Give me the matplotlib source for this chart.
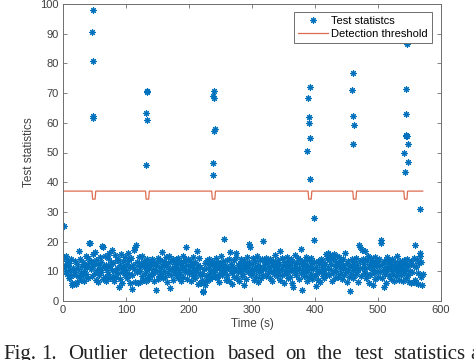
import numpy as np
import matplotlib
matplotlib.use("Agg")
import matplotlib.pyplot as plt
from matplotlib.lines import Line2D

# Background test statistics, one sample per second starting at t = 0
background_values = [
    11.5, 14.8, 25.3, 12.0, 10.2, 15.1, 9.0, 13.4, 11.8, 7.6, 12.9, 10.4, 14.2, 8.3, 6.1, 5.4, 11.0, 5.8, 9.7, 13.6,
    5.6, 8.8, 12.4, 6.3, 10.9, 16.9, 8.1, 14.0, 9.5, 7.2, 11.7, 8.6, 13.1, 10.0, 6.8, 12.2, 15.3, 9.1, 11.4, 7.9,
    14.6, 12.8, 19.6, 19.4, 10.7, 13.5, 8.4, 11.9, 15.8, 12.3, 9.3, 16.4, 7.0, 13.8, 10.6, 6.4, 12.6, 8.9, 14.9, 11.1,
    9.8, 13.2, 18.6, 7.4, 18.2, 11.5, 15.0, 8.2, 12.1, 6.6, 10.3, 14.4, 9.0, 16.2, 11.8, 7.7, 13.0, 17.1, 10.5, 8.5,
    12.7, 6.9, 15.5, 10.1, 8.0, 13.7, 11.2, 9.4, 14.1, 4.6, 7.3, 12.0, 15.9, 10.8, 6.2, 13.3, 9.6, 11.6, 8.7, 14.7,
    10.4, 12.5, 7.8, 16.0, 9.2, 13.9, 11.3, 6.0, 14.5, 8.6, 3.9, 12.2, 17.2, 10.7, 18.3, 6.4, 18.9, 13.0, 9.9, 5.9,
    11.9, 14.8, 6.5, 10.0, 12.8, 8.4, 15.2, 7.1, 11.3, 13.5, 9.5, 6.8, 12.4, 10.6, 14.0, 8.0, 11.0, 7.5, 13.2, 9.2,
    12.1, 8.9, 14.3, 10.5, 6.7, 13.1, 9.7, 11.8, 3.8, 12.9, 7.4, 14.6, 10.2, 8.3, 13.8, 11.4, 9.0, 16.6, 12.5, 7.9,
    13.6, 10.1, 8.1, 14.9, 11.7, 6.3, 12.7, 9.3, 15.1, 10.8, 4.5, 13.3, 8.6, 11.2, 14.2, 7.2, 10.9, 12.3, 9.8, 13.9,
    8.8, 11.6, 14.5, 7.6, 10.3, 12.8, 9.1, 13.0, 6.9, 11.5, 15.0, 8.2, 10.7, 13.7, 9.6, 18.2, 12.0, 7.3, 10.4, 14.1,
    9.4, 11.9, 13.4, 6.6, 10.2, 12.6, 8.5, 14.8, 11.1, 7.8, 13.1, 9.9, 17.0, 10.6, 12.2, 5.8, 14.4, 8.7, 11.3, 6.2,
    9.5, 7.0, 3.2, 2.9, 10.8, 5.5, 12.7, 8.3, 13.9, 6.8, 11.0, 14.1, 9.2, 7.5, 12.4, 10.1, 8.0, 13.6, 11.7, 9.8,
    12.9, 8.4, 10.7, 14.6, 7.7, 11.4, 13.2, 9.0, 6.4, 12.3, 10.5, 15.0, 8.9, 11.8, 13.5, 20.9, 9.7, 12.0, 7.1, 10.9,
    13.8, 8.6, 11.2, 14.3, 6.9, 16.6, 10.0, 12.6, 9.3, 5.6, 11.5, 13.7, 8.1, 10.4, 14.9, 16.3, 7.8, 12.1, 9.6, 11.0,
    6.7, 12.8, 10.2, 14.1, 8.5, 11.7, 9.1, 13.4, 5.5, 10.8, 12.5, 7.4, 14.7, 9.8, 11.3, 19.2, 13.0, 18.1, 8.8, 10.6,
    12.4, 9.5, 14.5, 7.2, 11.1, 13.3, 8.0, 10.9, 15.2, 6.5, 12.0, 9.9, 13.8, 11.4, 7.6, 10.3, 14.0, 20.3, 8.7, 12.2,
    13.1, 10.7, 14.6, 8.3, 12.7, 9.4, 13.6, 11.5, 7.9, 14.2, 10.1, 12.9, 6.6, 11.8, 13.4, 9.2, 15.4, 10.5, 12.3, 8.5,
    11.2, 13.9, 9.6, 12.5, 7.0, 16.7, 10.8, 14.4, 8.8, 11.9, 13.0, 5.9, 10.2, 12.6, 9.0, 14.8, 11.4, 7.7, 13.5, 10.0,
    12.2, 8.2, 14.1, 10.9, 6.1, 4.6, 13.2, 9.7, 11.6, 15.6, 8.6, 12.8, 10.3, 14.4, 7.3, 11.0, 13.7, 17.6, 9.3, 12.4,
    3.6, 10.6, 13.3, 8.4, 11.8, 14.7, 9.9, 6.8, 12.1, 10.4, 13.9, 8.0, 11.3, 14.5, 9.1, 12.7, 7.5, 10.9, 20.5, 13.1,
    8.3, 5.2, 11.6, 9.4, 13.5, 7.1, 10.2, 12.9, 6.3, 14.0, 9.8, 11.5, 8.5, 13.2, 10.6, 7.6, 12.3, 15.9, 9.0, 14.6,
    16.2, 11.2, 13.8, 8.7, 15.4, 10.4, 12.5, 6.7, 14.2, 9.5, 15.8, 11.9, 7.9, 13.0, 10.1, 15.1, 12.6, 8.2, 14.9, 11.4,
    9.2, 13.4, 10.8, 7.4, 12.0, 14.3, 8.8, 11.1, 16.3, 9.6, 12.7, 6.5, 10.5, 13.6, 8.1, 3.3, 11.7, 9.0, 14.0, 12.2,
    10.3, 7.6, 13.1, 11.5, 8.9, 14.6, 12.0, 9.7, 6.4, 10.8, 19.0, 13.3, 18.2, 8.4, 17.2, 11.0, 14.1, 9.3, 12.6, 16.7,
    10.9, 7.7, 13.7, 9.1, 15.0, 11.3, 6.0, 12.4, 8.6, 14.4, 10.5, 13.0, 5.5, 11.9, 9.4, 14.8, 7.3, 12.1, 10.0, 13.5,
    8.2, 11.7, 14.2, 9.8, 19.5, 20.6, 12.3, 7.9, 10.6, 4.8, 13.4, 9.0, 11.5, 6.2, 14.7, 10.2, 12.8, 8.5, 13.9, 11.1,
    7.5, 12.6, 10.0, 14.0, 9.2, 11.8, 6.9, 13.2, 10.7, 8.3, 15.3, 12.2, 9.6, 11.4, 7.1, 13.6, 10.3, 8.8, 12.9, 6.6,
    11.0, 13.8, 9.4, 12.4, 7.8, 10.5, 14.3, 8.6, 11.9, 6.4, 12.7, 10.1, 13.4, 6.0, 9.7, 6.3, 12.2, 14.6, 7.0, 18.9,
    11.3, 6.2, 13.7, 9.5, 5.6, 12.9, 16.1, 15.3, 8.1, 13.0, 5.4, 9.0,
]

# Outliers (time in s, test statistic)
outlier_time = [47, 46.5, 48, 47, 48,
                133, 134, 133.5, 132, 133, 132,
                240, 238.5, 239, 240.5, 240, 238, 238.5,
                392.5, 389, 391, 390.5, 391.5, 388, 392, 398.5,
                460, 459.5, 460.5, 461.5, 461,
                545.5, 545, 544, 544, 545, 546, 547, 542, 547.5, 543,
                567]
outlier_value = [98.0, 90.5, 80.7, 61.5, 62.3,
                 70.8, 70.4, 70.6, 63.2, 61.0, 45.7,
                 70.7, 69.0, 68.5, 58.0, 57.4, 46.6, 42.5,
                 72.0, 68.2, 62.0, 60.0, 54.8, 50.5, 41.0, 28.0,
                 76.8, 71.0, 62.4, 59.3, 53.0,
                 86.5, 71.3, 62.8, 55.6, 55.9, 55.5, 53.0, 49.8, 46.7, 43.4,
                 31.0]

# Detection threshold: nominal level, lowered level and the seconds where it is lowered
threshold_level = 37.0
threshold_low = 34.3
threshold_end = 572
dip_seconds = [47, 48, 49, 50, 51,
               132, 133, 134, 135, 136,
               237, 238, 239, 240, 241,
               390, 391, 392, 393, 394,
               461, 462, 463, 464, 465,
               542, 543, 544, 545, 546]

blue = "#0072BD"
red = "#DE6B4F"
grey = "#6e6e6e"
label_c = "#404040"

plt.rcParams["font.family"] = ["Liberation Sans", "DejaVu Sans"]

fig = plt.figure(figsize=(4.74, 3.6), dpi=100)
ax = fig.add_axes([63 / 474, 59 / 360, 378 / 474, 297 / 360])

star = (8, 2, 0)
t_bg = np.arange(len(background_values))
ax.plot(t_bg, background_values, linestyle="none", marker=star, ms=4.6, mew=0.8,
        color=blue)
ax.plot(outlier_time, outlier_value, linestyle="none", marker=star, ms=4.6, mew=0.8,
        color=blue)

t_thr = np.arange(threshold_end)
thr = np.where(np.isin(t_thr, dip_seconds), threshold_low, threshold_level)
ax.plot(t_thr, thr, color=red, lw=0.9)

ax.set_xlim(0, 600)
ax.set_ylim(0, 100)
ax.set_xticks(range(0, 601, 100))
ax.set_yticks(range(0, 101, 10))
ax.tick_params(direction="in", length=3, width=0.6, color=grey, labelcolor=label_c,
               labelsize=8, top=True, right=True, pad=3)
for s in ax.spines.values():
    s.set_color(grey)
    s.set_linewidth(0.7)

ax.set_xlabel("Time (s)", fontsize=8.5, color=label_c, labelpad=2)
ax.set_ylabel("Test statistics", fontsize=8.5, color=label_c, labelpad=4)

handles = [Line2D([], [], linestyle="none", marker=star, ms=4.6, mew=0.8, color=blue),
           Line2D([], [], color=red, lw=0.9)]
leg = ax.legend(handles, ["Test statistcs", "Detection threshold"], loc="upper right",
                bbox_to_anchor=(369 / 378, 289 / 297), borderaxespad=0, fontsize=8,
                fancybox=False, framealpha=1, edgecolor=grey, handlelength=2.7,
                borderpad=0.35, labelspacing=0.3, handletextpad=0.35)
leg.get_frame().set_linewidth(0.7)
leg.set_zorder(5)

# Caption of the figure, cut off at the bottom of the picture
caption_words = ["Fig.", "1.", "Outlier", "detection", "based", "on", "the", "test",
                 "statistics", "and"]
caption_x = [3, 41, 68, 138, 227, 285, 317, 355, 393, 470]
for w, x in zip(caption_words, caption_x):
    fig.text(x / 474, 1 / 360, w, fontsize=15, family="Liberation Serif",
             color="#222222", ha="left", va="baseline")

fig.savefig("out.png", dpi=100)
